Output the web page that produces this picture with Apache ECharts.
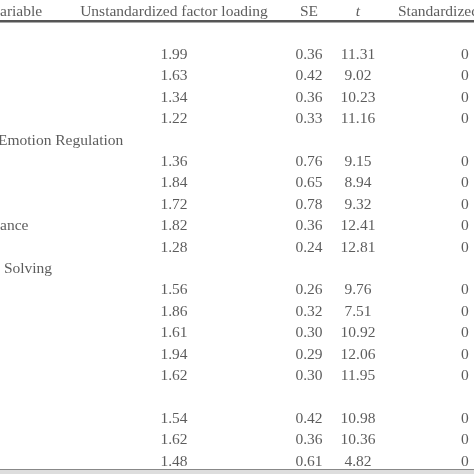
<!DOCTYPE html>
<html>
<head>
<meta charset="utf-8">
<script src="https://cdn.jsdelivr.net/npm/echarts@6/dist/echarts.min.js"></script>
<style>html,body{margin:0;padding:0;background:#fff}#main{width:474px;height:474px}</style>
</head>
<body>
<div id="main"></div>
<script>
// table data, row index -> values
const headers = ['ariable', 'Unstandardized factor loading', 'SE', 't', 'Standardized'];
const groupLabels = [[4, 'Emotion Regulation'], [8, 'ance'], [10, ' Solving']];
const loadRows = [0, 1, 2, 3, 5, 6, 7, 8, 9, 11, 12, 13, 14, 15, 17, 18, 19];
const loading = ['1.99', '1.63', '1.34', '1.22', '1.36', '1.84', '1.72', '1.82', '1.28', '1.56', '1.86', '1.61', '1.94', '1.62', '1.54', '1.62', '1.48'];
const se = ['0.36', '0.42', '0.36', '0.33', '0.76', '0.65', '0.78', '0.36', '0.24', '0.26', '0.32', '0.30', '0.29', '0.30', '0.42', '0.36', '0.61'];
const tVals = ['11.31', '9.02', '10.23', '11.16', '9.15', '8.94', '9.32', '12.41', '12.81', '9.76', '7.51', '10.92', '12.06', '11.95', '10.98', '10.36', '4.82'];

const font = '"Liberation Serif", "Times New Roman", serif';
const col = {label: 0, load: 174, se: 309, t: 358, std: 461};

function textSeries(points, align, italic, dx) {
  return {
    type: 'scatter', symbolSize: 0, silent: true, clip: false,
    data: points.map(p => ({value: [p[0], p[1]], name: p[2]})),
    label: {
      show: true, position: 'inside', align: align, verticalAlign: 'middle',
      offset: [dx || 0, 0],
      formatter: q => q.name, color: '#333', fontFamily: font, fontSize: 15.5,
      fontStyle: italic ? 'italic' : 'normal'
    }
  };
}

const headerPts = [[col.label, -2, headers[0]], [col.load, -2, headers[1]], [col.se, -2, headers[2]], [398, -2, headers[4]]];

var chart = echarts.init(document.getElementById('main'));
chart.setOption({
  animation: false,
  grid: {left: 0, right: 0, top: 0, bottom: 0},
  xAxis: {type: 'value', min: 0, max: 474, show: false},
  yAxis: {type: 'value', min: -2.57, max: 19.58, inverse: true, show: false},
  graphic: [
    {type: 'rect', shape: {x: 0, y: 20, width: 474, height: 2.5}, style: {fill: '#555'}},
    {type: 'rect', shape: {x: 0, y: 469, width: 474, height: 1}, style: {fill: '#888'}},
    {type: 'rect', shape: {x: 0, y: 470, width: 474, height: 4}, style: {fill: '#ddd'}}
  ],
  series: [
    textSeries(headerPts.slice(0, 1), 'left'),
    textSeries(headerPts.slice(1, 3), 'center'),
    textSeries([[col.t, -2, headers[3]]], 'center', true),
    textSeries(headerPts.slice(3), 'left'),
    textSeries(groupLabels.slice(0, 1).map(g => [0, g[0], g[1]]), 'left', false, -2),
    textSeries(groupLabels.slice(1).map(g => [0, g[0], g[1]]), 'left'),
    textSeries(loadRows.map((r, i) => [col.load, r, loading[i]]), 'center'),
    textSeries(loadRows.map((r, i) => [col.se, r, se[i]]), 'center'),
    textSeries(loadRows.map((r, i) => [col.t, r, tVals[i]]), 'center'),
    textSeries(loadRows.map(r => [col.std, r, '0']), 'left')
  ]
});
</script>
</body>
</html>
